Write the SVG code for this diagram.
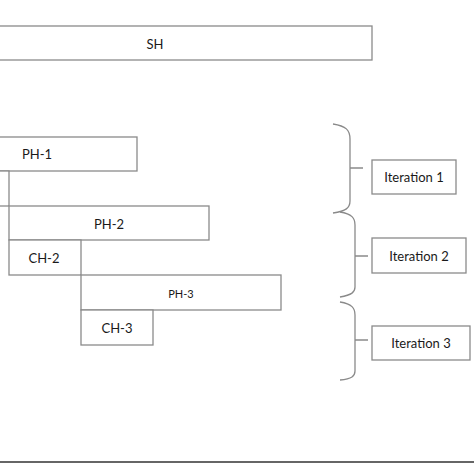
<svg xmlns="http://www.w3.org/2000/svg" width="474" height="474" viewBox="0 0 474 474">
<style>
.box{fill:#fff;stroke:#8a8a8a;stroke-width:1.3}
.br{fill:none;stroke:#8a8a8a;stroke-width:1.3}
text{font-family:Lato,"Open Sans",sans-serif;font-size:13px;fill:#1a1a1a;text-anchor:middle;dominant-baseline:central}
</style>
<rect width="474" height="474" fill="#fff"/>
<g id="SH"><rect class="box" x="-2" y="26" width="374" height="34"/><text x="155" y="44">SH</text></g>
<g id="PH-1"><rect class="box" x="-2" y="137" width="139" height="34"/><text x="37" y="154">PH-1</text></g>
<g id="CH-1"><rect class="box" x="-2" y="171" width="11" height="35"/></g>
<g id="PH-2"><rect class="box" x="9" y="206" width="200" height="34"/><text x="109" y="224">PH-2</text></g>
<g id="CH-2"><rect class="box" x="9" y="240" width="72" height="35"/><text x="44" y="258">CH-2</text></g>
<g id="PH-3"><rect class="box" x="81" y="275" width="200" height="35"/><text x="181" y="293" style="font-size:11px">PH-3</text></g>
<g id="CH-3"><rect class="box" x="81" y="310" width="72" height="35"/><text x="117" y="328">CH-3</text></g>
<g id="connectors">
<path class="br" d="M333,124 C346,126 350,130 350,139 L350,201 C350,208 346,211 333,213 M350,168 L363,168"/>
<path class="br" d="M340,212 C352,214 355,218 355,225 L355,287 C355,292 352,295 340,297 M355,256 L368,256"/>
<path class="br" d="M340,302 C352,304 355,308 355,315 L355,371 C355,376 352,379 340,380 M355,340 L368,340"/>
</g>
<g id="Iteration1"><rect class="box" x="372" y="160" width="84" height="34"/><text x="414" y="177">Iteration 1</text></g>
<g id="Iteration2"><rect class="box" x="372" y="238" width="94" height="35"/><text x="419" y="256">Iteration 2</text></g>
<g id="Iteration3"><rect class="box" x="372" y="326" width="98" height="34"/><text x="421" y="343">Iteration 3</text></g>
<line x1="0" y1="462" x2="474" y2="462" stroke="#666" stroke-width="2"/>
</svg>
